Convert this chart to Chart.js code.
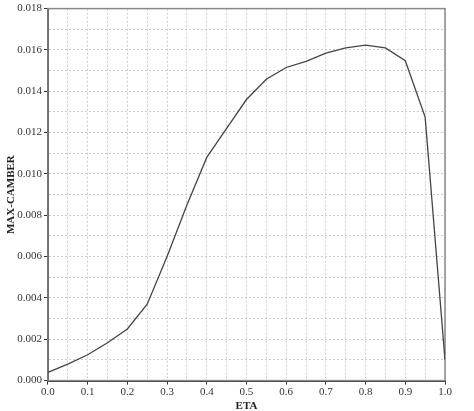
<!DOCTYPE html>
<html>
<head>
<meta charset="utf-8">
<script src="https://cdn.jsdelivr.net/npm/chart.js@4"></script>
<style>
  html, body { margin: 0; padding: 0; background: #fff; }
  #wrap { width: 474px; height: 411px; }
</style>
</head>
<body>
<div id="wrap"><canvas id="grafico"></canvas></div>
<script>
// valores
const eta = [0.0, 0.05, 0.1, 0.15, 0.2, 0.25, 0.3, 0.35, 0.4, 0.45, 0.5,
  0.55, 0.6, 0.65, 0.7, 0.75, 0.8, 0.85, 0.9, 0.95, 1.0];
const maxCamber = [0.0004, 0.0008, 0.00125, 0.00183, 0.0025, 0.0037, 0.0060, 0.0085, 0.0108, 0.0122, 0.0136,
  0.01458, 0.01515, 0.01545, 0.01584, 0.0161, 0.01623, 0.0161, 0.01548, 0.01275, 0.0010];
const xTicks = ['0.0', '0.1', '0.2', '0.3', '0.4', '0.5', '0.6', '0.7', '0.8', '0.9', '1.0'];
const yTicks = ['0.000', '0.002', '0.004', '0.006', '0.008', '0.010', '0.012', '0.014', '0.016', '0.018'];

const fonteSerif = "'Liberation Serif', 'DejaVu Serif', serif";

// moldura cinza em volta da area do grafico
const moldura = {
  id: 'moldura',
  beforeDatasetsDraw(chart) {
    const { ctx, chartArea: a } = chart;
    ctx.save();
    ctx.strokeStyle = '#888';
    ctx.lineWidth = 1.5;
    ctx.strokeRect(a.left, a.top, a.right - a.left, a.bottom - a.top);
    ctx.restore();
  }
};

const ehMaiorX = v => Math.round(v * 100) % 10 === 0;
const ehMaiorY = v => Math.round(v * 1000) % 2 === 0;

new Chart(document.getElementById('grafico'), {
  type: 'line',
  data: {
    datasets: [{
      data: eta.map((x, i) => ({ x: x, y: maxCamber[i] })),
      borderColor: '#444',
      borderWidth: 1.3,
      pointRadius: 0,
      fill: false,
      tension: 0
    }]
  },
  options: {
    responsive: true,
    maintainAspectRatio: false,
    animation: false,
    layout: { padding: { top: -2, right: 29, bottom: -2, left: 0 } },
    plugins: { legend: { display: false }, tooltip: { enabled: false } },
    scales: {
      x: {
        type: 'linear',
        min: 0, max: 1,
        afterBuildTicks: s => { s.ticks = eta.map(v => ({ value: v })); },
        ticks: {
          autoSkip: false,
          maxRotation: 0,
          color: '#333',
          font: { family: fonteSerif, size: 11 },
          padding: 1,
          callback: v => ehMaiorX(v) ? xTicks[Math.round(v * 10)] : ''
        },
        grid: {
          color: '#cccccc',
          lineWidth: 1,
          tickLength: 4,
          tickColor: c => (c.tick && ehMaiorX(c.tick.value)) ? '#333' : 'rgba(0,0,0,0)'
        },
        border: { display: true, color: '#333', width: 2, dash: [2, 2] },
        title: {
          display: true, text: 'ETA', color: '#222',
          font: { family: fonteSerif, size: 11, weight: 'bold' },
          padding: { top: 0, bottom: 0 }
        }
      },
      y: {
        min: 0, max: 0.018,
        afterBuildTicks: s => {
          const t = [];
          for (let i = 0; i <= 18; i++) t.push({ value: i / 1000 });
          s.ticks = t;
        },
        ticks: {
          autoSkip: false,
          color: '#333',
          font: { family: fonteSerif, size: 11 },
          padding: 2,
          callback: v => ehMaiorY(v) ? yTicks[Math.round(v * 500)] : ''
        },
        grid: {
          color: '#cccccc',
          lineWidth: 1,
          tickLength: 4,
          tickColor: c => (c.tick && ehMaiorY(c.tick.value)) ? '#333' : 'rgba(0,0,0,0)'
        },
        border: { display: true, color: '#333', width: 2, dash: [2, 2] },
        title: {
          display: true, text: 'MAX-CAMBER', color: '#222',
          font: { family: fonteSerif, size: 11, weight: 'bold' },
          padding: { top: 5, bottom: -3 }
        }
      }
    }
  },
  plugins: [moldura]
});
</script>
</body>
</html>
